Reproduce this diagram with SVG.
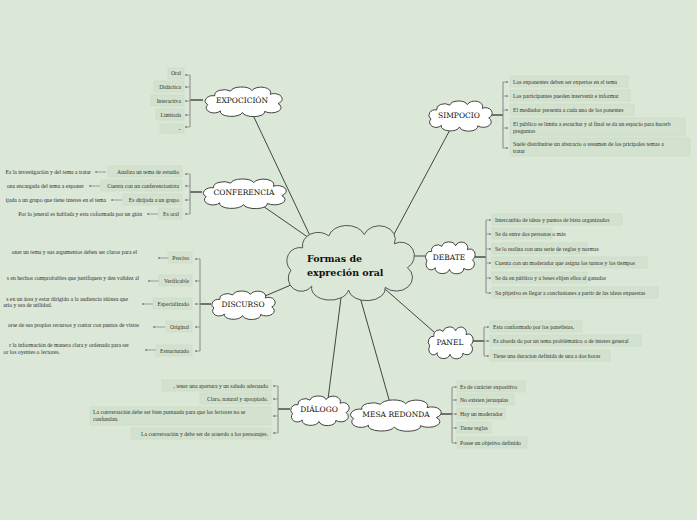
<svg xmlns="http://www.w3.org/2000/svg" xmlns:xlink="http://www.w3.org/1999/xlink" width="697" height="520" viewBox="0 0 697 520">
<style>
.bg{fill:#dbe7d7}
.cl{fill:#fff;stroke:#444;stroke-width:1}
.cc{fill:#dbe7d7;stroke:#555;stroke-width:1}
.nt{font-family:"DejaVu Serif",serif;font-size:7.5px;fill:#111;text-anchor:middle}
.ct{font-family:"DejaVu Serif",serif;font-size:9.5px;font-weight:bold;fill:#111}
.lf rect{fill:#d3e2ce;stroke:#c8d9c3;stroke-width:.6}
.lt{font-family:"Liberation Serif",serif;font-size:5.7px;fill:#333}
.e{text-anchor:end}
.cn{stroke:#444;stroke-width:1;fill:none}
.br{stroke:#888;stroke-width:1;fill:none}
.st{stroke:#555;stroke-width:1.6;fill:none}
.ar{stroke:#888;stroke-width:.8;fill:none;marker-end:url(#a)}
</style>
<defs>
<marker id="a" viewBox="0 0 6 6" refX="5" refY="3" markerWidth="3" markerHeight="3" orient="auto"><path d="M0,0L6,3L0,6z" fill="#888"/></marker>
<path id="cloud" d="M15,15 A12,10 0 0 1 35,6 A14,10 0 0 1 62,5 A12,10 0 0 1 85,12 A10,10 0 0 1 95,30 A12,10 0 0 1 78,45 A14,9 0 0 1 50,47 A14,9 0 0 1 22,44 A10,10 0 0 1 6,32 A10,10 0 0 1 15,15 Z" vector-effect="non-scaling-stroke"/>
</defs>
<rect class="bg" width="697" height="520"/>
<g id="connectors">
<line class="cn" x1="252" y1="113" x2="312" y2="240"/>
<line class="cn" x1="260" y1="204" x2="312" y2="240"/>
<line class="cn" x1="265" y1="296" x2="298" y2="282"/>
<line class="cn" x1="328" y1="399" x2="342" y2="290"/>
<line class="cn" x1="390" y1="403" x2="358" y2="290"/>
<line class="cn" x1="452" y1="126" x2="392" y2="238"/>
<line class="cn" x1="425" y1="256" x2="412" y2="256"/>
<line class="cn" x1="434" y1="332" x2="385" y2="289"/>
<path class="st" d="M203,100H190"/><path class="br" d="M190,75V127"/>
<path class="ar" d="M190,75H185"/><path class="ar" d="M190,87H185"/><path class="ar" d="M190,101H185"/><path class="ar" d="M190,115H185"/><path class="ar" d="M190,127H185"/>
<path class="st" d="M202,192H190"/><path class="br" d="M190,174V214"/>
<path class="ar" d="M190,174H185"/><path class="ar" d="M190,186H185"/><path class="ar" d="M190,200H185"/><path class="ar" d="M190,214H185"/>
<path class="ar" d="M106,172H95"/><path class="ar" d="M100,186H89"/><path class="ar" d="M122,200H111"/><path class="ar" d="M158,214H147"/>
<path class="st" d="M211,304H200"/><path class="br" d="M200,259V351"/>
<path class="ar" d="M200,259H195"/><path class="ar" d="M200,281H195"/><path class="ar" d="M200,304H195"/><path class="ar" d="M200,327H195"/><path class="ar" d="M200,351H195"/>
<path class="ar" d="M170,258H158"/><path class="ar" d="M160,281H148"/><path class="ar" d="M154,304H142"/><path class="ar" d="M165,327H153"/><path class="ar" d="M157,350H145"/>
<path class="st" d="M290,409H278"/><path class="br" d="M278,386V433"/>
<path class="ar" d="M278,386H273"/><path class="ar" d="M278,399H273"/><path class="ar" d="M278,416H273"/><path class="ar" d="M278,433H273"/>
<path class="st" d="M440,414H452"/><path class="br" d="M452,387V443"/>
<path class="ar" d="M452,387H457"/><path class="ar" d="M452,400H457"/><path class="ar" d="M452,414H457"/><path class="ar" d="M452,428H457"/><path class="ar" d="M452,443H457"/>
<path class="st" d="M491,115H503"/><path class="br" d="M503,82V148"/>
<path class="ar" d="M503,82H508"/><path class="ar" d="M503,96H508"/><path class="ar" d="M503,110H508"/><path class="ar" d="M503,128H508"/><path class="ar" d="M503,148H508"/>
<path class="st" d="M474,257H486"/><path class="br" d="M486,220V293"/>
<path class="ar" d="M486,220H491"/><path class="ar" d="M486,234H491"/><path class="ar" d="M486,249H491"/><path class="ar" d="M486,263H491"/><path class="ar" d="M486,278H491"/><path class="ar" d="M486,293H491"/>
<path class="st" d="M472,341H484"/><path class="br" d="M484,327V356"/>
<path class="ar" d="M484,327H489"/><path class="ar" d="M484,341H489"/><path class="ar" d="M484,356H489"/>
</g>
<g id="center"><use href="#cloud" class="cc" transform="translate(283,228) scale(1.31,1.32)"/><text class="ct" x="307" y="262">Formas de</text><text class="ct" x="307" y="276">expreción oral</text></g>
<g id="expocicion"><use href="#cloud" class="cl" transform="translate(203,88) scale(0.79,0.52)"/><text class="nt" x="242" y="103">EXPOCICIÓN</text></g>
<g id="conferencia"><use href="#cloud" class="cl" transform="translate(201,180) scale(0.85,0.52)"/><text class="nt" x="244" y="195">CONFERENCIA</text></g>
<g id="discurso"><use href="#cloud" class="cl" transform="translate(210,292) scale(0.65,0.5)"/><text class="nt" x="243" y="307">DISCURSO</text></g>
<g id="dialogo"><use href="#cloud" class="cl" transform="translate(289,397) scale(0.6,0.52)"/><text class="nt" x="319" y="412">DIÁLOGO</text></g>
<g id="mesa"><use href="#cloud" class="cl" transform="translate(348,401) scale(0.93,0.55)"/><text class="nt" x="396" y="417">MESA REDONDA</text></g>
<g id="simpocio"><use href="#cloud" class="cl" transform="translate(427,102) scale(0.65,0.53)"/><text class="nt" x="459" y="118">SIMPOCIO</text></g>
<g id="debate"><use href="#cloud" class="cl" transform="translate(424,243) scale(0.51,0.56)"/><text class="nt" x="449" y="260">DEBATE</text></g>
<g id="panel"><use href="#cloud" class="cl" transform="translate(427,328) scale(0.46,0.56)"/><text class="nt" x="450" y="345">PANEL</text></g>
<g id="leaves" class="lf">
<rect x="168" y="68" width="16" height="11"/><text class="lt e" x="181" y="75">Oral</text>
<rect x="154" y="81" width="30" height="11"/><text class="lt e" x="181" y="89">Didáctica</text>
<rect x="151" y="95" width="33" height="11"/><text class="lt e" x="181" y="103">Interactiva</text>
<rect x="156" y="109" width="28" height="11"/><text class="lt e" x="181" y="117">Limitada</text>
<rect x="160" y="124" width="24" height="9"/><text class="lt e" x="181" y="130">..</text>
<rect x="108" y="166" width="74" height="11"/><text class="lt e" x="179" y="174">Analiza un tema de  estudio</text>
<rect x="101" y="180" width="81" height="11"/><text class="lt e" x="179" y="188">Cuenta con un conferencionista</text>
<rect x="123" y="194" width="59" height="11"/><text class="lt e" x="179" y="202">Es dirijada a un grupo</text>
<rect x="159" y="208" width="23" height="11"/><text class="lt e" x="179" y="216">Es oral</text>
<text class="lt e" x="91" y="174">Es la investigación y del tema a tratar</text>
<text class="lt e" x="84" y="188">ona encargada del tema a exponer</text>
<text class="lt e" x="106" y="202">ijada a un grupo que tiene interes en el tema</text>
<text class="lt e" x="142" y="216">Por lo jeneral es hablada y  esta coformada por un gión</text>
<rect x="168" y="252" width="24" height="11"/><text class="lt e" x="189" y="260">Preciso</text>
<rect x="159" y="275" width="33" height="11"/><text class="lt e" x="189" y="283">Verificable</text>
<rect x="153" y="298" width="39" height="11"/><text class="lt e" x="189" y="306">Especializado</text>
<rect x="166" y="321" width="26" height="11"/><text class="lt e" x="189" y="329">Original</text>
<rect x="156" y="345" width="36" height="11"/><text class="lt e" x="189" y="353">Estructurado</text>
<text class="lt e" x="137" y="254">oner un tema y sus argumentos deben ser claros para el</text>
<text class="lt e" x="139" y="280">s en hechos comprobables que justifiquen y den validez al</text>
<text class="lt e" x="128" y="301">s en un área y estar dirigido a la audiencia idónea que</text>
<text class="lt e" x="52" y="307">ario y sea de utilidad.</text>
<text class="lt e" x="139" y="327">orse de sus propios recursos y contar con puntos de vistas</text>
<text class="lt e" x="129" y="347">r la información de manera clara y ordenada para ser</text>
<text class="lt e" x="60" y="354">or los oyentes o lectores.</text>
<rect x="162" y="380" width="109" height="11"/><text class="lt e" x="268" y="388">, tener una apertura y un saludo adecuado</text>
<rect x="200" y="393" width="71" height="11"/><text class="lt e" x="268" y="401">Claro, natural y apropiado.</text>
<rect x="90" y="407" width="181" height="18"/><text class="lt" x="93" y="414">La conversación debe ser bien puntuada para que los lectores no se</text><text class="lt" x="93" y="421">confundan.</text>
<rect x="131" y="428" width="140" height="11"/><text class="lt e" x="268" y="436">La conversación y debe ser de acuerdo a los personajes.</text>
<rect x="457" y="381" width="68" height="11"/><text class="lt" x="460" y="389">Es de carácter  expositivo</text>
<rect x="457" y="394" width="57" height="11"/><text class="lt" x="460" y="402">No existen jerarquías</text>
<rect x="457" y="408" width="48" height="11"/><text class="lt" x="460" y="416">Hay un moderador</text>
<rect x="457" y="422" width="34" height="11"/><text class="lt" x="460" y="430">Tiene reglas</text>
<rect x="457" y="437" width="70" height="11"/><text class="lt" x="460" y="445">Posee un objetivo definido</text>
<rect x="510" y="76" width="118" height="11"/><text class="lt" x="513" y="84">Los exponentes deben ser expertos en el tema</text>
<rect x="510" y="90" width="120" height="11"/><text class="lt" x="513" y="98">Los participantes pueden intervenir e informar</text>
<rect x="510" y="104" width="124" height="11"/><text class="lt" x="513" y="112">El mediador presenta a cada uno de los ponentes</text>
<rect x="510" y="118" width="175" height="18"/><text class="lt" x="513" y="126">El público se limita a escuchar y al final se da un espacio para hacerb</text><text class="lt" x="513" y="133">preguntas</text>
<rect x="510" y="138" width="180" height="18"/><text class="lt" x="513" y="146">Suele distribuirse un abstracto o resumen de los pricipales temas  a</text><text class="lt" x="513" y="153">tratar</text>
<rect x="492" y="214" width="130" height="11"/><text class="lt" x="495" y="222">Intercanbio de ideas y  puntos de bista organizados</text>
<rect x="492" y="228" width="60" height="11"/><text class="lt" x="495" y="236">Se da entre dos personas o más</text>
<rect x="492" y="243" width="95" height="11"/><text class="lt" x="495" y="251">Se lo realiza con una serie de reglas y normas</text>
<rect x="492" y="257" width="155" height="11"/><text class="lt" x="495" y="265">Cuenta con un moderador que asigna los turnos y los tiempos</text>
<rect x="492" y="272" width="95" height="11"/><text class="lt" x="495" y="280">Se da en público y a beses elijen ellos al ganador</text>
<rect x="492" y="287" width="166" height="11"/><text class="lt" x="495" y="295">Su pbjetivo es llegar a conclusiones a partir de las ideas expuestas</text>
<rect x="490" y="321" width="92" height="11"/><text class="lt" x="493" y="329">Esta conformado por los panelistas,</text>
<rect x="490" y="335" width="151" height="11"/><text class="lt" x="493" y="343">Es aborda do por un tema problématico o de interes general</text>
<rect x="490" y="350" width="120" height="11"/><text class="lt" x="493" y="358">Tiene una duracion definida de una a dos horas</text>
</g>
</svg>
